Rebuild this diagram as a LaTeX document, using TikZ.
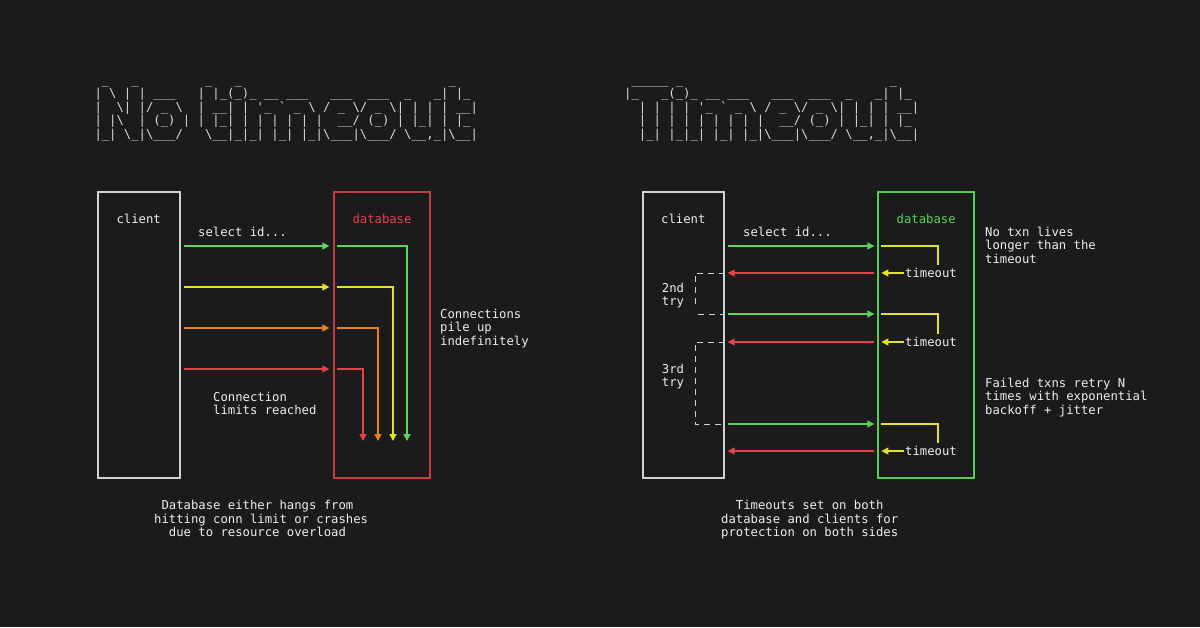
\documentclass[tikz,border=0pt]{standalone}
\usepackage{fontspec}
\setmonofont{DejaVu Sans Mono}
\usepackage{tikz}
\usetikzlibrary{arrows.meta,positioning}

\definecolor{bgc}{HTML}{1B1B1B}
\definecolor{fgc}{HTML}{EEEEEE}
\definecolor{ttlc}{HTML}{DCDCDC}
\definecolor{boxc}{HTML}{D2D2D2}
\definecolor{gnc}{HTML}{5AD65A}
\definecolor{ylc}{HTML}{E2E22C}
\definecolor{ogc}{HTML}{E8821E}
\definecolor{rdc}{HTML}{E4434E}
\definecolor{rdbox}{HTML}{C33C46}
\definecolor{gnbox}{HTML}{56CC56}

\newcommand\bsl{\textbackslash}

\begin{document}
\begin{tikzpicture}[
  x=1pt, y=-1pt,
  txt/.style={font=\ttfamily\fontsize{12.25}{13.6}\selectfont, text=fgc, inner sep=0pt},
  note/.style={txt, align=left, anchor=north west},
  ttl/.style={font=\ttfamily\fontsize{12.25}{13.6}\selectfont, text=ttlc, inner sep=0pt, anchor=base west},
  side/.style={draw, line width=1.3pt, minimum height=286pt, inner sep=0pt},
  ln/.style={line width=1.3pt},
  tip/.style={-{Triangle[length=7pt,width=7pt]}},
  dsh/.style={draw=boxc, line width=1pt, dash pattern=on 6pt off 5pt},
]
\fill[bgc] (0,0) rectangle (1200,627);
\useasboundingbox (0,0) rectangle (1200,627);

% titles
\node[ttl] (nt1) at (94.3,84)    {~\_~~~\_~~~~~~~~~\_~~~\_~~~~~~~~~~~~~~~~~~~~~~~~~~~~\_};
\node[ttl] (nt2) at (94.3,97.6)  {|~\bsl~|~|~\_\_\_~~~|~|\_(\_)\_~\_\_~\_\_\_~~~\_\_\_~~\_\_\_~~\_~~~\_|~|\_};
\node[ttl] (nt3) at (94.3,111.2) {|~~\bsl|~|/~\_~\bsl~~|~\_\_|~|~\textquotesingle\_~\textasciigrave~\_~\bsl~/~\_~\bsl/~\_~\bsl|~|~|~|~\_\_|};
\node[ttl] (nt4) at (94.3,124.8) {|~|\bsl~~|~(\_)~|~|~|\_|~|~|~|~|~|~|~~\_\_/~(\_)~|~|\_|~|~|\_};
\node[ttl] (nt5) at (94.3,138.4) {|\_|~\bsl\_|\bsl\_\_\_/~~~\bsl\_\_|\_|\_|~|\_|~|\_|\bsl\_\_\_|\bsl\_\_\_/~\bsl\_\_,\_|\bsl\_\_|};

\node[ttl] (tt1) at (624,84)    {~\_\_\_\_\_~\_~~~~~~~~~~~~~~~~~~~~~~~~~~~~\_};
\node[ttl] (tt2) at (624,97.6)  {|\_~~~\_(\_)\_~\_\_~\_\_\_~~~\_\_\_~~\_\_\_~~\_~~~\_|~|\_};
\node[ttl] (tt3) at (624,111.2) {~~|~|~|~|~\textquotesingle\_~\textasciigrave~\_~\bsl~/~\_~\bsl/~\_~\bsl|~|~|~|~\_\_|};
\node[ttl] (tt4) at (624,124.8) {~~|~|~|~|~|~|~|~|~|~~\_\_/~(\_)~|~|\_|~|~|\_};
\node[ttl] (tt5) at (624,138.4) {~~|\_|~|\_|\_|~|\_|~|\_|\bsl\_\_\_|\bsl\_\_\_/~\bsl\_\_,\_|\bsl\_\_|};

% no timeout
\node[side, draw=boxc, minimum width=82pt] (lcl) at (139,335) {};
\node[side, draw=rdbox, minimum width=96pt] (ldb) at (382,335) {};
\node[txt, anchor=base] (lcll) at (138.7,223) {client};
\node[txt, anchor=base, text=rdc] (ldbl) at (382,223) {database};
\node[txt, anchor=base west] (lsel) at (198,236.5) {select id...};

\foreach \i/\yy/\xx/\cc in {1/246/407/gnc, 2/287/393/ylc, 3/328/378/ogc, 4/369/363/rdc} {
  \coordinate (lr\i) at (0,\yy);
  \coordinate (ld\i) at (\xx,441);
  \draw[ln, tip, \cc, shorten <=3pt, shorten >=4pt] (lcl.east |- lr\i) -- (ldb.west |- lr\i);
  \draw[ln, tip, \cc, shorten <=4pt] (ldb.west |- lr\i) -| (ld\i);
}

\node[note] (llim) at (213,391.5) {Connection\\limits reached};
\node[note] (lpile) at (440,308.5) {Connections\\pile up\\indefinitely};
\node[note] (lbot) at (154,500)
     {\hphantom{x}Database either hangs from\\hitting conn limit or crashes\\\hphantom{xx}due to resource overload};

% timeout
\node[side, draw=boxc, minimum width=81pt] (rcl) at (683.5,335) {};
\node[side, draw=gnbox, minimum width=96pt] (rdb) at (926,335) {};
\node[txt, anchor=base] (rcll) at (683.3,223) {client};
\node[txt, anchor=base, text=gnc] (rdbl) at (926.2,223) {database};
\node[txt, anchor=base west] (rsel) at (743,236.5) {select id...};

\foreach \i/\gy/\ry in {1/246/273, 2/314/342, 3/424/451} {
  \coordinate (rg\i) at (0,\gy);
  \coordinate (rr\i) at (0,\ry);
  \coordinate (ry\i) at (938,\ry);
  \node[txt, anchor=west] (to\i) at (905,\ry) {timeout};
  \draw[ln, tip, gnc, shorten <=3pt, shorten >=3pt] (rcl.east |- rg\i) -- (rdb.west |- rg\i);
  \draw[ln, ylc, shorten <=4pt, shorten >=3pt] (rdb.west |- rg\i) -| (ry\i |- to\i.north);
  \draw[ln, tip, ylc, shorten <=1pt, shorten >=4pt] (to\i.west) -- (rdb.west |- rr\i);
  \draw[ln, tip, rdc, shorten <=3pt, shorten >=3pt] (rdb.west |- rr\i) -- (rcl.east |- rr\i);
}

% retry brackets
\coordinate (b2a) at (695,273);
\coordinate (b2b) at (695,307);
\coordinate (b2c) at (698,314);
\coordinate (b3a) at (695,342);
\coordinate (b3b) at (695,424);
\draw[dsh] (rcl.east |- b2a) -- (b2a) -- (b2b);
\draw[dsh] (b2c) -- (rcl.east |- b2c);
\draw[dsh] (rcl.east |- b3a) -- (b3a) -- (b3b) -- (rcl.east |- b3b);

\node[note] (rtry2) at (661.7,282.5) {2nd\\try};
\node[note] (rtry3) at (661.7,363.5) {3rd\\try};
\node[note] (rlive) at (985,226.5) {No txn lives\\longer than the\\timeout};
\node[note] (rfail) at (985,377.5) {Failed txns retry N\\times with exponential\\backoff + jitter};
\node[note] (rbot) at (721,500)
     {\hphantom{xx}Timeouts set on both\\database and clients for\\protection on both sides};
\end{tikzpicture}
\end{document}
